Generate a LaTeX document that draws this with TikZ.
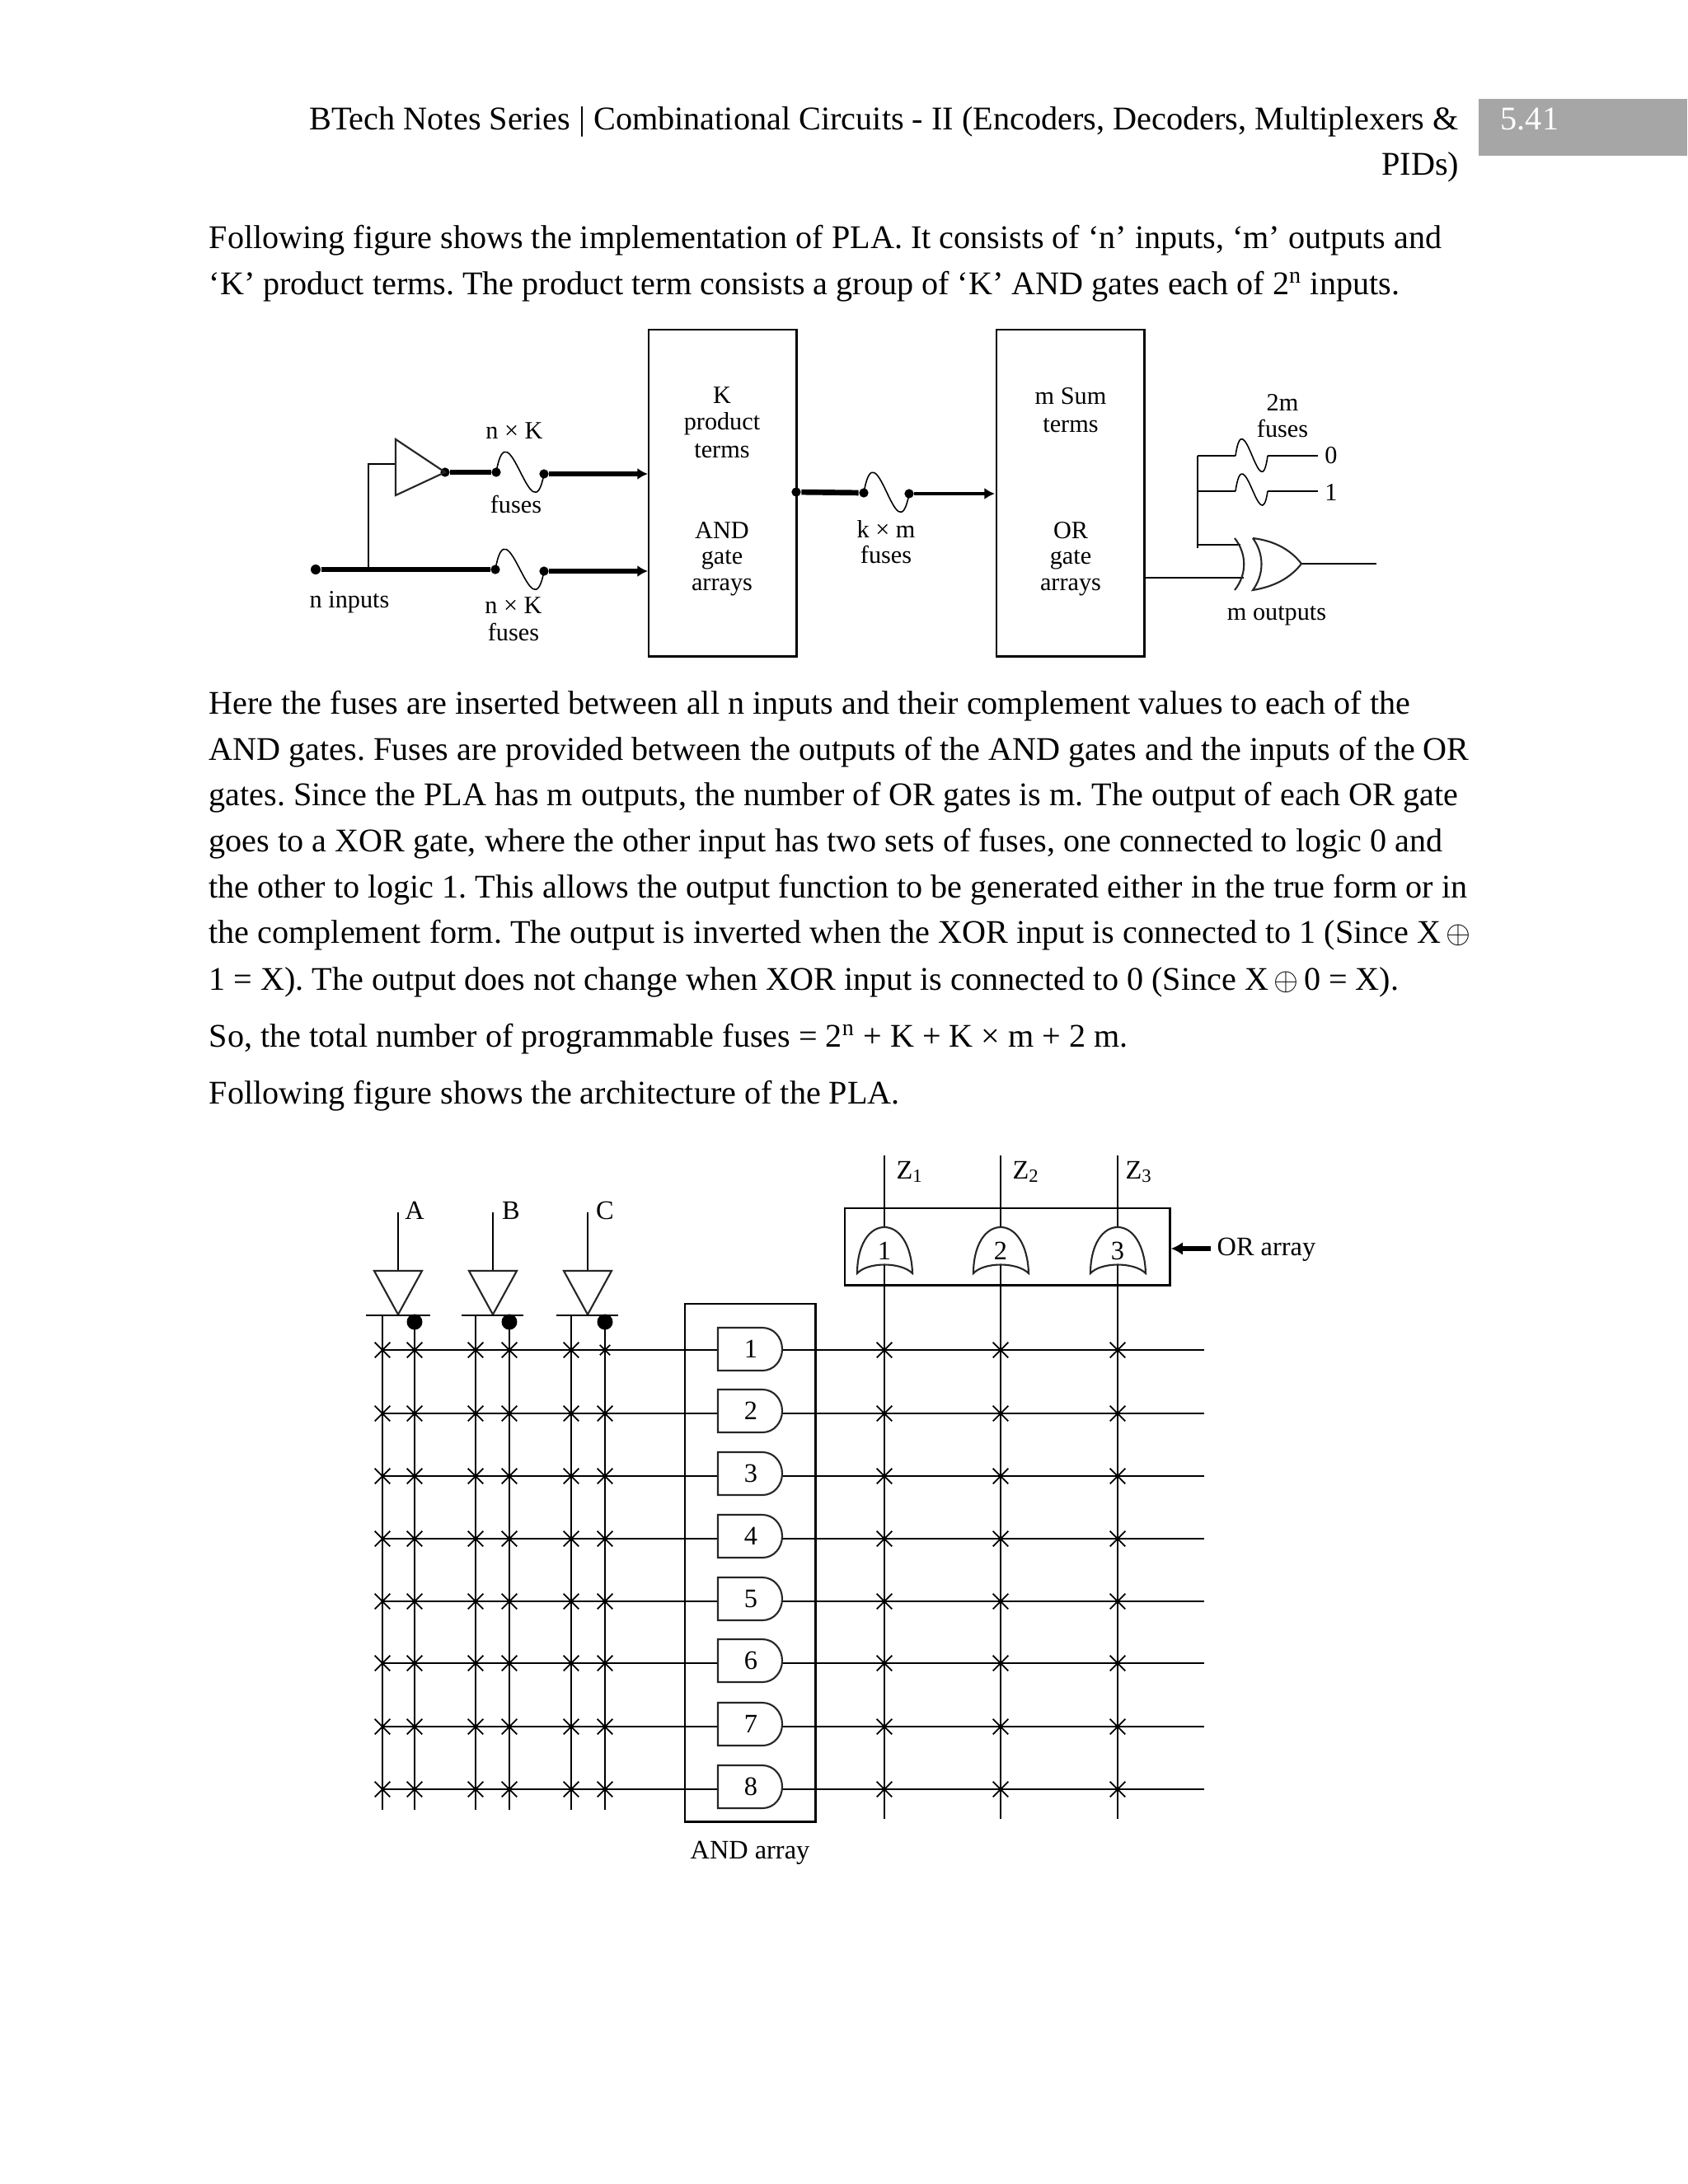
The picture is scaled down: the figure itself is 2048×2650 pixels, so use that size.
\documentclass[tikz,border=0pt]{standalone}
\usepackage{fontspec}
\usepackage{amssymb}
\setmainfont{Liberation Serif}
\usetikzlibrary{arrows.meta}
\usetikzlibrary{shapes.misc}

\definecolor{tabgray}{HTML}{A6A6A6}

\newcommand{\bodysize}{\fontsize{11.41pt}{14pt}\selectfont}
\newcommand{\headsize}{\fontsize{11.44pt}{14pt}\selectfont}
\newcommand{\figsize}{\fontsize{8.6pt}{10pt}\selectfont}
\newcommand{\arraysize}{\fontsize{9.2pt}{11pt}\selectfont}
\frenchspacing

\tikzset{
	bodyline/.style={anchor=base west, inner sep=0pt, font=\bodysize},
	figlabel/.style={inner sep=0pt, font=\figsize},
	arraylabel/.style={inner sep=0pt, font=\arraysize},
	wire/.style={line width=0.7pt},
	buswire/.style={line width=1.9pt},
	gateline/.style={line width=0.6pt, draw=black!85},
	blockbox/.style={draw, line width=0.7pt, fill=none},
	wiredot/.style={circle, fill=black, inner sep=0pt, minimum size=3.4pt},
	fusedot/.style={circle, fill=black, inner sep=0pt, minimum size=3.2pt},
	fusecross/.style={cross out, draw, line width=0.5pt, inner sep=0pt, minimum size=4.8pt},
	fusecurve/.style={line width=0.45pt},
	busarrow/.style={buswire, -{Latex[length=3.6pt,width=4pt]}}
}

\begin{document}
\begin{tikzpicture}[x=0.01cm, y=-0.01cm]

	\useasboundingbox (0,0) rectangle (2048,2650);

	%page header

	\fill[tabgray] (1794,120) rectangle (2047,189);
	\node[anchor=base west, inner sep=0pt, text=white, font=\headsize] (pagenum) at (1820,157) {5.41};
	\node[anchor=base east, inner sep=0pt, font=\headsize] (headone) at (1770,157) {BTech Notes Series | Combinational Circuits - II (Encoders, Decoders, Multiplexers \&};
	\node[anchor=base east, inner sep=0pt, font=\headsize] (headtwo) at (1771,212) {PIDs)};

	%text above figure 1

	\node[bodyline] (introone) at (253,301) {Following figure shows the implementation of PLA. It consists of ‘n’ inputs, ‘m’ outputs and};
	\node[bodyline] (introtwo) at (253,357) {‘K’ product terms. The product term consists a group of ‘K’ AND gates each of 2\textsuperscript{n} inputs.};

	%figure 1, blocks

	\node[blockbox, anchor=north west, minimum width=1.79cm, minimum height=3.96cm] (andblock) at (786,399) {};
	\node[blockbox, anchor=north west, minimum width=1.79cm, minimum height=3.96cm] (orblock) at (1208,399) {};

	\node[figlabel] (kword) at (876,480) {K};
	\node[figlabel] (kproduct) at (876,514) {product};
	\node[figlabel] (kterms) at (876,547) {terms};
	\node[figlabel] (andword) at (876,644) {AND};
	\node[figlabel] (andgate) at (876,679) {gate};
	\node[figlabel] (andarrays) at (876,713) {arrays};

	\node[figlabel] (msum) at (1299,481) {m Sum};
	\node[figlabel] (mterms) at (1299,516) {terms};
	\node[figlabel] (orword) at (1299,644) {OR};
	\node[figlabel] (orgate) at (1299,679) {gate};
	\node[figlabel] (orarrays) at (1299,713) {arrays};

	%figure 1, inputs

	\node[wiredot] (inputdot) at (383,691) {};
	\node[fusedot] (lowa) at (601,691) {};
	\node[fusedot] (lowb) at (660,693) {};
	\node[fusedot] (upa) at (602,573) {};
	\node[fusedot] (upb) at (660,575) {};
	\node[fusedot] (invdot) at (540,573) {};
	\coordinate (branch) at (447,691);
	\coordinate (invin) at (480,563);
	\coordinate (uparrow) at (786,575);
	\coordinate (lowarrow) at (786,693);

	\draw[wire] (branch) |- (invin);
	\draw[gateline] (invdot.center) -- (480,533) -- (480,601) -- cycle;
	\draw[buswire] (inputdot) -- (lowa);
	\draw[buswire] (invdot) -- (upa);
	\draw[busarrow] (upb) -- (uparrow);
	\draw[busarrow] (lowb) -- (lowarrow);
	\draw[fusecurve] (upa.center) .. controls +(15,-85) and +(-15,80) .. (upb.center);
	\draw[fusecurve] (lowa.center) .. controls +(15,-85) and +(-15,80) .. (lowb.center);

	\node[figlabel] (topcount) at (624,523) {n × K};
	\node[figlabel] (topfuses) at (626,612) {fuses};
	\node[figlabel] (inputword) at (424,731) {n inputs};
	\node[figlabel] (lowcount) at (623,735) {n × K};
	\node[figlabel] (lowfuses) at (623,767) {fuses};

	%figure 1, middle fuses

	\node[fusedot] (mida) at (966,597) {};
	\node[fusedot] (midb) at (1048,598) {};
	\node[fusedot] (midc) at (1103,599) {};
	\coordinate (midarrow) at (1207,599);
	\draw[buswire] (mida) -- (midb);
	\draw[busarrow, line width=1.4pt] (midc) -- (midarrow);
	\draw[fusecurve] (midb.center) .. controls +(15,-85) and +(-15,80) .. (midc.center);
	\node[figlabel] (midcount) at (1075,642) {k × m};
	\node[figlabel] (midfuses) at (1075,673) {fuses};

	%figure 1, output side

	\coordinate (railtop) at (1453,553);
	\coordinate (railone) at (1453,596);
	\coordinate (railbot) at (1453,665);
	\coordinate (zeroend) at (1599,553);
	\coordinate (oneend) at (1599,596);
	\coordinate (xorupper) at (1505,661);
	\coordinate (xorlower) at (1509,701);
	\coordinate (boxout) at (1389,701);
	\coordinate (xortip) at (1579,684);
	\coordinate (xorend) at (1670,684);
	\node[figlabel] (zero) at (1615,553) {0};
	\node[figlabel] (one) at (1615,597) {1};

	\draw[wire] (railtop) -- (railbot);
	\draw[wire] (railtop) -- (1499,553);
	\draw[wire] (1538,553) -- (zeroend);
	\draw[wire] (railone) -- (1499,596);
	\draw[wire] (1538,596) -- (oneend);
	\draw[fusecurve] (1499,553) .. controls +(10,-70) and +(-9,68) .. (1538,553);
	\draw[fusecurve] (1499,596) .. controls +(10,-70) and +(-9,62) .. (1538,596);
	\draw[wire] (1453,661) -- (xorupper);
	\draw[wire] (boxout) -- (xorlower);
	\draw[wire] (xortip) -- (xorend);
	\draw[gateline] (1498,653) .. controls (1513,672) and (1513,697) .. (1498,716);
	\draw[gateline] (1520,653) .. controls (1534,672) and (1534,697) .. (1520,716)
		.. controls (1545,712) and (1565,702) .. (xortip)
		.. controls (1565,666) and (1545,656) .. (1520,653);

	\node[figlabel] (twom) at (1556,488) {2m};
	\node[figlabel] (twomfuses) at (1556,520) {fuses};
	\node[figlabel] (moutputs) at (1549,747) {m outputs};

	%text between the figures

	\node[bodyline] (paraone) at (253,866) {Here the fuses are inserted between all n inputs and their complement values to each of the};
	\node[bodyline] (paratwo) at (253,922) {AND gates. Fuses are provided between the outputs of the AND gates and the inputs of the OR};
	\node[bodyline] (parathree) at (253,977) {gates. Since the PLA has m outputs, the number of OR gates is m. The output of each OR gate};
	\node[bodyline] (parafour) at (253,1033) {goes to a XOR gate, where the other input has two sets of fuses, one connected to logic 0 and};
	\node[bodyline] (parafive) at (253,1089) {the other to logic 1. This allows the output function to be generated either in the true form or in};
	\node[bodyline] (parasix) at (253,1144) {the complement form. The output is inverted when the XOR input is connected to 1 (Since X\,$\oplus$};
	\node[bodyline] (paraseven) at (253,1201) {1 = X). The output does not change when XOR input is connected to 0 (Since X\,$\oplus$\,0 = X).};
	\node[bodyline] (paraeight) at (253,1270) {So, the total number of programmable fuses = 2\textsuperscript{n} + K + K × m + 2 m.};
	\node[bodyline] (paranine) at (253,1339) {Following figure shows the architecture of the PLA.};

	%figure 2, boxes

	\node[blockbox, anchor=north west, minimum width=1.58cm, minimum height=6.28cm] (andarray) at (830,1581) {};
	\node[blockbox, anchor=north west, minimum width=3.94cm, minimum height=0.93cm] (orarray) at (1024,1465) {};
	\node[arraylabel] (andarraytext) at (910,2248) {AND array};
	\node[arraylabel, anchor=west] (orarraytext) at (1476,1516) {OR array};
	\coordinate (orarrowtail) at (1469,1515);
	\draw[buswire, -{Latex[length=4pt,width=4.4pt]}] (orarrowtail) -- (orarray.east |- orarrowtail);

	%figure 2, inputs and inverters

	\foreach \name/\inx/\barl/\barr/\colx in {A/483/444/522/503, B/598/560/635/620, C/713/675/750/734} {
		\coordinate (top\name) at (\inx,1471);
		\coordinate (tri\name) at (\inx,1542);
		\coordinate (barleft\name) at (\barl,1596);
		\coordinate (barright\name) at (\barr,1596);
		\draw[wire] (top\name) -- (tri\name);
		\draw[gateline] (\inx-29,1542) -- (\inx+29,1542) -- (\inx,1595) -- cycle;
		\draw[wire] (barleft\name) -- (barright\name);
		\node[arraylabel] (label\name) at (\colx,1469) {\name};
	}

	%column lines of the AND side

	\foreach \colx in {464,577,693} {
		\draw[wire] (\colx,1596) -- (\colx,2196);
	}
	\foreach \colx in {503,618,734} {
		\draw[wire] (\colx,1596) -- (\colx,2196);
		\fill (\colx,1604) circle (2.7pt);
	}

	%or gates and their columns

	\foreach \n/\colx/\labx in {1/1073/1104, 2/1214/1245, 3/1356/1382} {
		\coordinate (ztop\n) at (\colx,1402);
		\coordinate (zapex\n) at (\colx,1489);
		\coordinate (zfoot\n) at (\colx,1535);
		\coordinate (zbot\n) at (\colx,2207);
		\draw[wire] (ztop\n) -- (zapex\n);
		\draw[wire] (zfoot\n) -- (zbot\n);
		\draw[gateline] (\colx-33,1545) .. controls (\colx-33,1510) and (\colx-18,1489) .. (zapex\n)
			.. controls (\colx+18,1489) and (\colx+33,1510) .. (\colx+34,1545)
			.. controls (\colx+20,1531) and (\colx-20,1531) .. cycle;
		\node[arraylabel] (orlabel\n) at (\colx,1518) {\n};
		\node[arraylabel] (zlabel\n) at (\labx,1422) {Z\textsubscript{\n}};
	}

	%rows, and gates, crosses

	\foreach \n/\ypos/\gatey in {1/1638/1637, 2/1715/1712, 3/1791/1788, 4/1867/1864, 5/1943/1940, 6/2018/2015, 7/2095/2092, 8/2171/2168} {
		\coordinate (rowstart\n) at (464,\ypos);
		\coordinate (gatein\n) at (871,\ypos);
		\coordinate (gateout\n) at (949,\ypos);
		\coordinate (rowend\n) at (1461,\ypos);
		\draw[wire] (rowstart\n) -- (gatein\n);
		\draw[wire] (gateout\n) -- (rowend\n);
		\draw[gateline] (871,\gatey-26) -- (925,\gatey-26)
			.. controls (939,\gatey-26) and (949,\gatey-14) .. (949,\gatey)
			.. controls (949,\gatey+14) and (939,\gatey+26) .. (925,\gatey+26)
			-- (871,\gatey+26) -- cycle;
		\node[arraylabel] (gate\n) at (911,\gatey) {\n};
		\foreach \colx in {464,503,577,618,693,734,1073,1214,1356} {
			\ifnum\n\colx=1734
				\node[fusecross, minimum size=3pt] (cross\colx-\n) at (\colx,\ypos) {};
			\else
				\node[fusecross] (cross\colx-\n) at (\colx,\ypos) {};
			\fi
		}
	}

\end{tikzpicture}
\end{document}
